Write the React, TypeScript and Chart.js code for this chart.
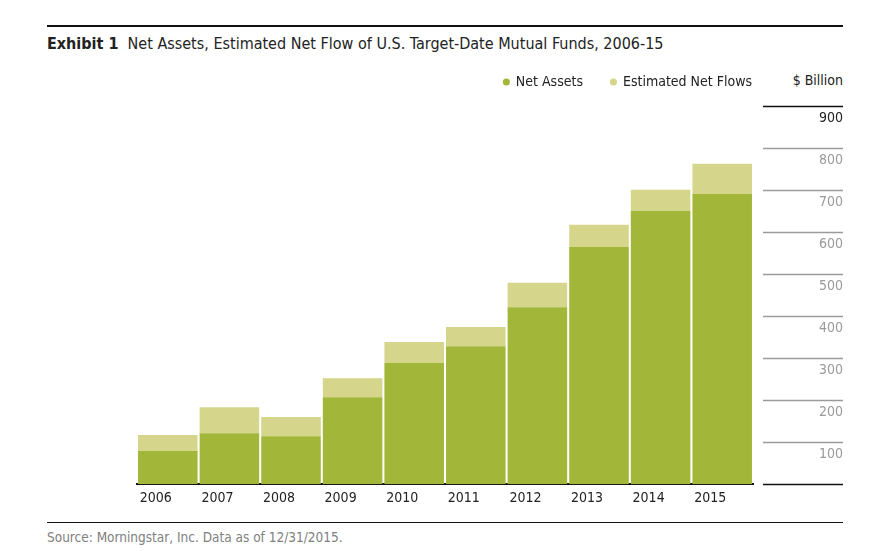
import { useEffect, useRef } from "react";
import { Chart, registerables, type Plugin } from "chart.js";

Chart.register(...registerables);

const years = ["2006", "2007", "2008", "2009", "2010", "2011", "2012", "2013", "2014", "2015"];
const netAssets = [79, 121, 114, 207, 288, 328, 421, 564, 650, 690];
const netFlows = [38, 62, 46, 45, 50, 46, 58, 53, 50, 72];
const yTicks = [0, 100, 200, 300, 400, 500, 600, 700, 800, 900];

const FONT = "'Liberation Sans Narrow', 'DejaVu Sans Condensed', 'Roboto', sans-serif";
const DARK_GREEN = "#a2b73a";
const LIGHT_GREEN = "#d5d68c";

// right-hand value axis: short rules with the label sitting under each rule
const rightAxis: Plugin<"bar"> = {
  id: "rightAxis",
  afterDraw(chart) {
    const { ctx, chartArea } = chart;
    const y = chart.scales.y;
    const x1 = chartArea.right + 10;
    const x2 = chart.width;
    ctx.save();
    ctx.font = `14px ${FONT}`;
    ctx.textAlign = "right";
    ctx.textBaseline = "middle";
    yTicks.forEach((v) => {
      const py = Math.round(y.getPixelForValue(v)) + 0.5;
      const strong = v === 0 || v === 900;
      ctx.strokeStyle = strong ? "#111" : "#9b9b9b";
      ctx.lineWidth = strong ? 1.6 : 1.4;
      ctx.beginPath();
      ctx.moveTo(x1, py);
      ctx.lineTo(x2, py);
      ctx.stroke();
      if (v > 0) {
        ctx.fillStyle = v === 900 ? "#222" : "#9a9a9a";
        ctx.fillText(String(v), x2, py + 12);
      }
    });
    ctx.restore();
  },
};

function ExhibitChart() {
  const canvasRef = useRef<HTMLCanvasElement | null>(null);
  const chartRef = useRef<Chart | null>(null);

  useEffect(() => {
    if (!canvasRef.current) return;
    const ctx = canvasRef.current.getContext("2d");
    if (!ctx) return;

    chartRef.current = new Chart(ctx, {
      type: "bar",
      data: {
        labels: years,
        datasets: [
          {
            label: "Net Assets",
            data: netAssets,
            backgroundColor: DARK_GREEN,
            borderWidth: 0,
          },
          {
            label: "Estimated Net Flows",
            data: netFlows,
            backgroundColor: LIGHT_GREEN,
            borderWidth: 0,
          },
        ],
      },
      options: {
        responsive: false,
        animation: false,
        layout: { padding: { left: 90, right: 63, top: 0, bottom: 0 } },
        datasets: { bar: { barPercentage: 0.967, categoryPercentage: 1 } },
        plugins: {
          legend: {
            position: "top",
            align: "end",
            labels: {
              usePointStyle: true,
              pointStyle: "circle",
              boxWidth: 5,
              boxHeight: 5,
              padding: 28,
              color: "#222",
              font: { family: FONT, size: 14 },
            },
          },
          tooltip: { enabled: false },
        },
        scales: {
          x: {
            stacked: true,
            grid: { display: false, drawTicks: false },
            border: { display: true, color: "#111", width: 2 },
            ticks: {
              align: "start",
              labelOffset: -28,
              padding: 6,
              color: "#222",
              font: { family: FONT, size: 14 },
            },
          },
          y: {
            stacked: true,
            position: "right",
            min: 0,
            max: 916,
            grid: { display: false, drawTicks: false },
            border: { display: false },
            ticks: { display: false },
            afterFit(scale) {
              scale.width = 27;
            },
          },
        },
      },
      plugins: [rightAxis],
    });

    return () => {
      chartRef.current?.destroy();
      chartRef.current = null;
    };
  }, []);

  return <canvas ref={canvasRef} width={796} height={466} style={{ display: "block" }} />;
}

export default function App() {
  return (
    <div
      style={{
        position: "absolute",
        left: 0,
        top: 0,
        width: 875,
        height: 551,
        background: "#fff",
        fontFamily: FONT,
      }}
    >
      <div style={{ position: "absolute", left: 47, top: 25, width: 796, height: 2, background: "#111" }} />
      <div style={{ position: "absolute", left: 47, top: 34, fontSize: 16, color: "#222", whiteSpace: "nowrap" }}>
        <b>Exhibit 1</b>&nbsp; Net Assets, Estimated Net Flow of U.S. Target-Date Mutual Funds, 2006-15
      </div>
      <div
        style={{
          position: "absolute",
          right: 875 - 843,
          top: 72,
          fontSize: 14,
          color: "#222",
          whiteSpace: "nowrap",
        }}
      >
        $ Billion
      </div>
      <div style={{ position: "absolute", left: 47, top: 47 }}>
        <ExhibitChart />
      </div>
      <div style={{ position: "absolute", left: 47, top: 522, width: 796, height: 1, background: "#111" }} />
      <div style={{ position: "absolute", left: 47, top: 529, fontSize: 13.5, color: "#808080", whiteSpace: "nowrap" }}>
        Source: Morningstar, Inc. Data as of 12/31/2015.
      </div>
    </div>
  );
}
